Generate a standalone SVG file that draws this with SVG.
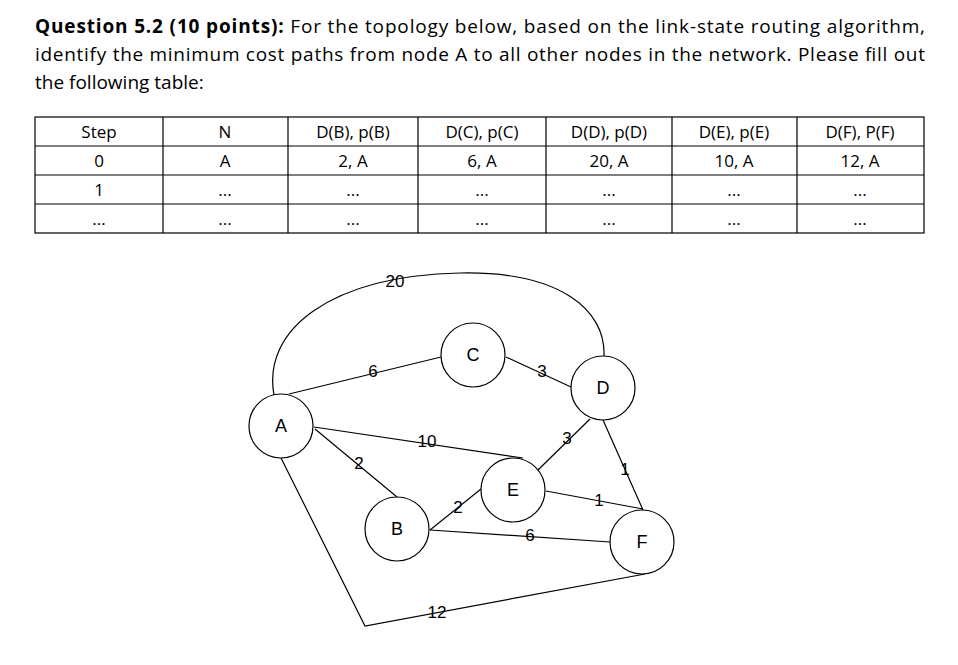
<svg xmlns="http://www.w3.org/2000/svg" width="958" height="665" viewBox="0 0 958 665">
<style>
.q{font-family:"Open Sans","Liberation Sans",sans-serif;font-size:19px;fill:#000}
.t{font-family:"Open Sans","Liberation Sans",sans-serif;font-size:17px;fill:#000;text-anchor:middle}
.g{fill:none;stroke:#000;stroke-width:1.2}
.n{fill:#fff;stroke:#000;stroke-width:1.2}
.nl{font-family:"Liberation Sans",Arial,sans-serif;font-size:18px;text-anchor:middle;fill:#000}
.el{font-family:"Liberation Sans",Arial,sans-serif;font-size:17px;text-anchor:middle;fill:#000}
</style>
<rect width="958" height="665" fill="#fff"/>
<text class="q" x="35" y="33" textLength="890" lengthAdjust="spacing"><tspan font-weight="bold">Question 5.2 (10 points):</tspan> For the topology below, based on the link-state routing algorithm,</text>
<text class="q" x="35" y="61" textLength="890" lengthAdjust="spacing">identify the minimum cost paths from node A to all other nodes in the network. Please fill out</text>
<text class="q" x="35" y="89">the following table:</text>
<g id="table">
<rect x="35" y="117" width="889" height="116" class="g"/>
<path class="g" d="M35 146H924M35 175H924M35 204H924M163 117V233M288 117V233M418 117V233M546 117V233M672 117V233M797 117V233"/>
<g class="t">
<text x="99" y="138">Step</text><text x="225" y="138">N</text><text x="353" y="138">D(B), p(B)</text><text x="482" y="138">D(C), p(C)</text><text x="609" y="138">D(D), p(D)</text><text x="734" y="138">D(E), p(E)</text><text x="860" y="138">D(F), P(F)</text>
<text x="99" y="167">0</text><text x="225" y="167">A</text><text x="353" y="167">2, A</text><text x="482" y="167">6, A</text><text x="609" y="167">20, A</text><text x="734" y="167">10, A</text><text x="860" y="167">12, A</text>
<text x="99" y="196">1</text><text x="225" y="196">...</text><text x="353" y="196">...</text><text x="482" y="196">...</text><text x="609" y="196">...</text><text x="734" y="196">...</text><text x="860" y="196">...</text>
<text x="99" y="225">...</text><text x="225" y="225">...</text><text x="353" y="225">...</text><text x="482" y="225">...</text><text x="609" y="225">...</text><text x="734" y="225">...</text><text x="860" y="225">...</text>
</g>
</g>
<g id="connectors" class="g">
<path d="M274 395C262 330 330 276 460 273C560 271 606 310 604 356"/>
<path d="M289 394L441 357"/>
<path d="M506 357L571 387"/>
<path d="M314 427L523 458"/>
<path d="M315 429L397 497"/>
<path d="M430 530L481 489"/>
<path d="M538 470L590 419"/>
<path d="M603 420L643 510"/>
<path d="M546 491L643 509"/>
<path d="M430 530L610 542"/>
<path d="M281 458L365 626L645 574"/>
</g>
<g id="edge-labels" class="el">
<text x="395" y="287">20</text>
<text x="373" y="377">6</text>
<text x="542" y="377">3</text>
<text x="427" y="447">10</text>
<text x="359" y="469">2</text>
<text x="458" y="513">2</text>
<text x="567" y="444">3</text>
<text x="625" y="475">1</text>
<text x="599" y="506">1</text>
<text x="530" y="541">6</text>
<text x="437" y="618">12</text>
</g>
<g id="node-A"><circle class="n" cx="281" cy="426" r="32"/><text class="nl" x="281" y="432">A</text></g>
<g id="node-C"><circle class="n" cx="473" cy="355" r="32"/><text class="nl" x="473" y="361">C</text></g>
<g id="node-D"><circle class="n" cx="603" cy="388" r="32"/><text class="nl" x="603" y="394">D</text></g>
<g id="node-E"><circle class="n" cx="513" cy="490" r="32"/><text class="nl" x="513" y="496">E</text></g>
<g id="node-B"><circle class="n" cx="397" cy="529" r="32"/><text class="nl" x="397" y="535">B</text></g>
<g id="node-F"><circle class="n" cx="642" cy="542" r="32"/><text class="nl" x="642" y="548">F</text></g>
</svg>
